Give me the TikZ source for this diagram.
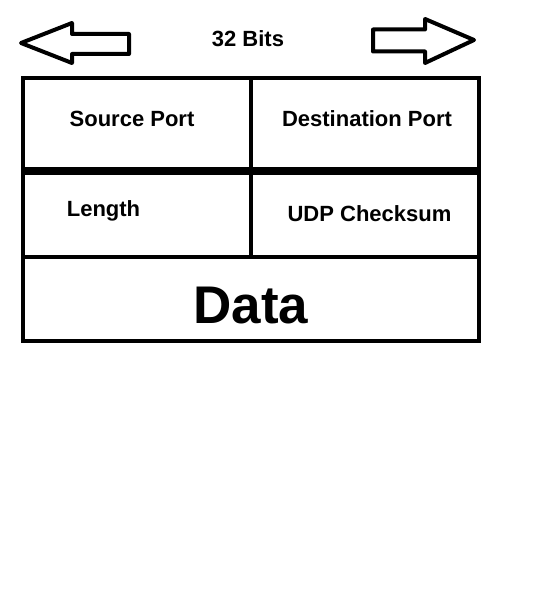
\documentclass[tikz,border=0pt]{standalone}
\usepackage{fontspec}
\setmainfont{Liberation Sans}
\begin{document}
\begin{tikzpicture}[x=1pt,y=-1pt,
  lbl/.style={font=\bfseries\fontsize{22}{26}\selectfont, inner sep=0pt, anchor=base},
  bigarrow/.style={draw=black, line width=4pt, line join=round, fill=white},
  outer/.style={draw=black, line width=4.5pt},
  thin/.style={draw=black, line width=4pt},
  thick/.style={draw=black, line width=8pt}]
\useasboundingbox (0,0) rectangle (554,596);
\fill[white] (0,0) rectangle (554,596);
% arrows
\draw[bigarrow] (21,43) -- (72,23) -- (72,34) -- (129,34) -- (129,54) -- (72,54) -- (72,63) -- cycle;
\draw[bigarrow] (474,40) -- (425,19) -- (425,29.5) -- (373,29.5) -- (373,51.5) -- (425,51.5) -- (425,63) -- cycle;
\node[lbl] (bits) at (248,47) {32 Bits};
% table coordinates
\coordinate (tl) at (23,78);
\coordinate (tr) at (479,78);
\coordinate (bl) at (23,341);
\coordinate (br) at (479,341);
\coordinate (r1l) at (23,171);
\coordinate (r1r) at (479,171);
\coordinate (r2l) at (23,257);
\coordinate (r2r) at (479,257);
\coordinate (mt) at (251,78);
\coordinate (mb) at (251,257);
\draw[thick] (r1l) -- (r1r);
\draw[thin] (r2l) -- (r2r);
\draw[thin] (mt) -- (mb);
\draw[outer, line join=miter] (tl) -- (tr) -- (br) -- (bl) -- cycle;
% labels
\node[lbl] (src) at (132,127) {Source Port};
\node[lbl] (dst) at (367,127) {Destination Port};
\node[lbl] (len) at (103.5,216) {Length};
\node[lbl] (chk) at (369.5,221) {UDP Checksum};
\node[lbl, font=\bfseries\fontsize{53}{60}\selectfont] (data) at (251,323) {Data};
\end{tikzpicture}
\end{document}
